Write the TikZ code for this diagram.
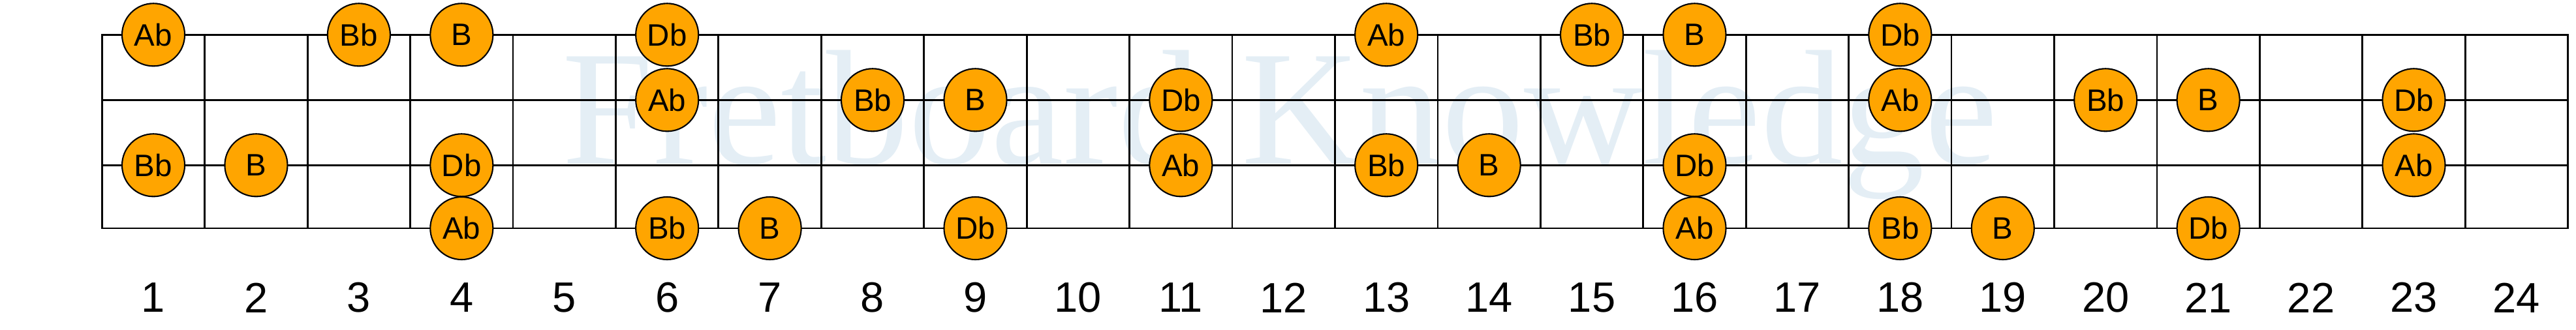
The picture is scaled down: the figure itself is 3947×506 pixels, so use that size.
\documentclass[tikz,border=0pt]{standalone}
\usepackage{fontspec}
\setmainfont{Liberation Sans}
\newfontfamily\wmfont{Liberation Serif}
\definecolor{notefill}{RGB}{255,165,0}
\definecolor{wmblue}{RGB}{228,238,245}
\tikzset{
  note/.style={circle,draw=black,line width=0.6pt,fill=notefill,minimum size=0.96cm,inner sep=0pt,font=\fontsize{13.5}{14}\selectfont},
  fretnum/.style={inner sep=0pt,font=\fontsize{18.5}{20}\selectfont},
  fretline/.style={line width=0.8pt,color=black}
}
\begin{document}
\begin{tikzpicture}[x=0.01cm,y=-0.01cm,line cap=rect,line join=miter]
\useasboundingbox (0,0) rectangle (3947,506);
\node[wmblue,anchor=base west,inner sep=0pt,font=\wmfont\fontsize{71.5}{72}\selectfont] (wm) at (861,251) {Fretboard Knowledge};
% strings and frets
\draw[fretline] (156.3,53.3) rectangle (3934.7,350);
\draw[fretline] (156.3,153.3) -- (3934.7,153.3);
\draw[fretline] (156.3,253.3) -- (3934.7,253.3);
\foreach \k in {1,...,23} \draw[fretline] ({156.3+157.43*\k},53.3) -- ++(0,296.7);
\foreach \n in {1,...,24} \node[fretnum] (f\n) at ({77.6+157.43*\n},456.5) {\n};
% string 1
\node[note] (s1f1) at ({77.6+157.43*1},53.3) {Ab};
\node[note] (s1f3) at ({77.6+157.43*3},53.3) {Bb};
\node[note] (s1f4) at ({77.6+157.43*4},53.3) {B};
\node[note] (s1f6) at ({77.6+157.43*6},53.3) {Db};
\node[note] (s1f13) at ({77.6+157.43*13},53.3) {Ab};
\node[note] (s1f15) at ({77.6+157.43*15},53.3) {Bb};
\node[note] (s1f16) at ({77.6+157.43*16},53.3) {B};
\node[note] (s1f18) at ({77.6+157.43*18},53.3) {Db};
% string 2
\node[note] (s2f6) at ({77.6+157.43*6},153.3) {Ab};
\node[note] (s2f8) at ({77.6+157.43*8},153.3) {Bb};
\node[note] (s2f9) at ({77.6+157.43*9},153.3) {B};
\node[note] (s2f11) at ({77.6+157.43*11},153.3) {Db};
\node[note] (s2f18) at ({77.6+157.43*18},153.3) {Ab};
\node[note] (s2f20) at ({77.6+157.43*20},153.3) {Bb};
\node[note] (s2f21) at ({77.6+157.43*21},153.3) {B};
\node[note] (s2f23) at ({77.6+157.43*23},153.3) {Db};
% string 3
\node[note] (s3f1) at ({77.6+157.43*1},253.3) {Bb};
\node[note] (s3f2) at ({77.6+157.43*2},253.3) {B};
\node[note] (s3f4) at ({77.6+157.43*4},253.3) {Db};
\node[note] (s3f11) at ({77.6+157.43*11},253.3) {Ab};
\node[note] (s3f13) at ({77.6+157.43*13},253.3) {Bb};
\node[note] (s3f14) at ({77.6+157.43*14},253.3) {B};
\node[note] (s3f16) at ({77.6+157.43*16},253.3) {Db};
\node[note] (s3f23) at ({77.6+157.43*23},253.3) {Ab};
% string 4
\node[note] (s4f4) at ({77.6+157.43*4},350) {Ab};
\node[note] (s4f6) at ({77.6+157.43*6},350) {Bb};
\node[note] (s4f7) at ({77.6+157.43*7},350) {B};
\node[note] (s4f9) at ({77.6+157.43*9},350) {Db};
\node[note] (s4f16) at ({77.6+157.43*16},350) {Ab};
\node[note] (s4f18) at ({77.6+157.43*18},350) {Bb};
\node[note] (s4f19) at ({77.6+157.43*19},350) {B};
\node[note] (s4f21) at ({77.6+157.43*21},350) {Db};
\end{tikzpicture}
\end{document}
